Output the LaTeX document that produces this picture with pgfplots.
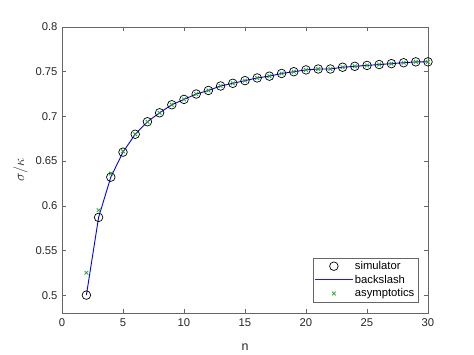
\documentclass[border=0pt]{standalone}
\usepackage{pgfplots}
\pgfplotsset{compat=1.18}
\usepackage{fontspec}
\setmainfont{Liberation Sans}
\definecolor{axgray}{rgb}{0.15,0.15,0.15}
\definecolor{mgreen}{rgb}{0.1,0.66,0.1}
\definecolor{lblue}{rgb}{0.1,0.1,1}
\pgfplotsset{
  longlegend/.style={legend image code/.code={\draw[mark repeat=2,mark phase=2,##1] plot coordinates {(0bp,0bp) (19bp,0bp) (38bp,0bp)};}},
  bluelegend/.style={legend image code/.code={\fill[fill=lblue, draw=none] (0bp,-0.6bp) rectangle (38bp,0.6bp);}},
}
\begin{document}
\begin{tikzpicture}[x=1bp,y=1bp]
\useasboundingbox (-62bp,-42bp) rectangle (412bp,313bp);
\begin{axis}[
  at={(0,0)}, anchor=south west,
  width=366bp, height=286bp, scale only axis,
  xmin=0, xmax=30, ymin=0.48, ymax=0.8,
  xtick={0,5,...,30},
  ytick={0.5,0.55,...,0.8},
  yticklabels={0.5,0.55,0.6,0.65,0.7,0.75,0.8},
  tick align=inside,
  tick pos=both,
  major tick length=4bp,
  axis line style={draw=gray!80!black, line width=0.5bp},
  every tick/.style={draw=gray!80!black, line width=0.5bp},
  tick label style={font=\fontsize{11.3}{13}\selectfont, text=axgray},
  xticklabel style={yshift=-2bp},
  yticklabel style={xshift=-1bp},
  /pgf/number format/assume math mode=true,
  xlabel={\fontsize{12.5}{14}\selectfont n},
  ylabel={\fontsize{14}{16}\selectfont $\sigma/\kappa$},
  label style={text=axgray},
  xlabel style={at={(axis description cs:0.5,0)}, anchor=center, yshift=-34bp},
  ylabel shift=1bp,
  legend cell align=left,
  legend style={font=\fontsize{11.3}{12}\selectfont, draw=gray!80!black, fill=white, inner sep=1.5bp, row sep=0bp, at={(0.9727,0.0385)}, anchor=south east},
]
\addplot[only marks, mark=o, mark size=4.3bp, black, line width=0.7bp, longlegend] coordinates {
(2,0.500) (3,0.587) (4,0.632) (5,0.660) (6,0.680) (7,0.694) (8,0.704) (9,0.713) (10,0.719)
(11,0.725) (12,0.729) (13,0.734) (14,0.737) (15,0.740) (16,0.743) (17,0.745) (18,0.748)
(19,0.750) (20,0.752) (21,0.753) (22,0.753) (23,0.755) (24,0.756) (25,0.757) (26,0.758)
(27,0.759) (28,0.760) (29,0.761) (30,0.761)};
\addlegendentry{simulator}
\addplot[draw=blue, line width=0.9bp, no marks, bluelegend] coordinates {
(2,0.500) (3,0.587) (4,0.632) (5,0.660) (6,0.680) (7,0.694) (8,0.704) (9,0.713) (10,0.719)
(11,0.725) (12,0.729) (13,0.734) (14,0.737) (15,0.740) (16,0.743) (17,0.745) (18,0.748)
(19,0.750) (20,0.752) (21,0.753) (22,0.753) (23,0.755) (24,0.756) (25,0.757) (26,0.758)
(27,0.759) (28,0.760) (29,0.761) (30,0.761)};
\addlegendentry{backslash}
\addplot[only marks, mark=x, mark size=2.6bp, mgreen, line width=0.8bp, longlegend] coordinates {
(2,0.525) (3,0.595) (4,0.636) (5,0.661) (6,0.680) (7,0.694) (8,0.704) (9,0.713) (10,0.719)
(11,0.725) (12,0.729) (13,0.734) (14,0.737) (15,0.740) (16,0.743) (17,0.745) (18,0.748)
(19,0.750) (20,0.752) (21,0.753) (22,0.753) (23,0.755) (24,0.756) (25,0.757) (26,0.758)
(27,0.759) (28,0.760) (29,0.761) (30,0.761)};
\addlegendentry{asymptotics}
\end{axis}
\end{tikzpicture}
\end{document}
